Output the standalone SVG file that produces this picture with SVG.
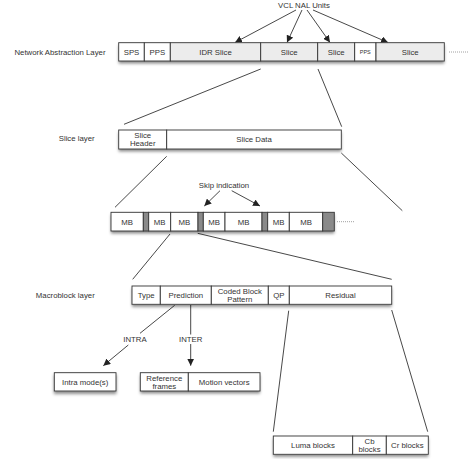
<svg xmlns="http://www.w3.org/2000/svg" width="474" height="459" viewBox="0 0 474 459">
<style>
text{font-family:"Liberation Sans",Arial,sans-serif;font-size:7.8px;fill:#333;text-anchor:middle}
.c{stroke:#333;stroke-width:0.9}
.w{fill:#fff}
.g{fill:#ececec}
.d{fill:#8a8a8a}
.ln{stroke:#333;stroke-width:0.9;fill:none}
.dot{stroke:#888;stroke-width:0.8;stroke-dasharray:1 1;fill:none}
</style>
<defs>
<filter id="sh" x="-10%" y="-30%" width="120%" height="180%">
<feDropShadow dx="0" dy="2.5" stdDeviation="1.6" flood-color="#000" flood-opacity="0.45"/>
</filter>
<marker id="ah" viewBox="0 0 10 10" refX="10" refY="5" markerWidth="7" markerHeight="7" markerUnits="userSpaceOnUse" orient="auto">
<path d="M0,0 L10,5 L0,10 z" fill="#222"/>
</marker>
</defs>

<g id="labels">
<text x="60" y="54.7">Network Abstraction Layer</text>
<text x="76.7" y="140.8">Slice layer</text>
<text x="65.3" y="297.8">Macroblock layer</text>
<text x="304" y="7.5">VCL NAL Units</text>
<text x="224" y="187.8">Skip indication</text>
<text x="135" y="342">INTRA</text>
<text x="190.7" y="342">INTER</text>
</g>

<g id="connectors">
<line class="ln" x1="296" y1="10" x2="235" y2="42.5" marker-end="url(#ah)"/>
<line class="ln" x1="302" y1="10" x2="287" y2="42.5" marker-end="url(#ah)"/>
<line class="ln" x1="307" y1="10" x2="330" y2="42.5" marker-end="url(#ah)"/>
<line class="ln" x1="313" y1="10" x2="388" y2="42.5" marker-end="url(#ah)"/>
<line class="ln" x1="260.7" y1="69" x2="124" y2="124.3"/>
<line class="ln" x1="318" y1="69" x2="341.7" y2="126.7"/>
<line class="ln" x1="166.7" y1="156.3" x2="115" y2="207.3"/>
<line class="ln" x1="341.3" y1="153" x2="402.3" y2="210.7"/>
<line class="ln" x1="220" y1="190.7" x2="204.3" y2="206" marker-end="url(#ah)"/>
<line class="ln" x1="231.7" y1="190.7" x2="260" y2="206" marker-end="url(#ah)"/>
<line class="ln" x1="170" y1="234" x2="132.7" y2="279.3"/>
<line class="ln" x1="197.7" y1="233.3" x2="391.7" y2="279.3"/>
<line class="ln" x1="174.7" y1="305.3" x2="140" y2="333.3"/>
<line class="ln" x1="128.3" y1="345" x2="103.3" y2="365.7" marker-end="url(#ah)"/>
<line class="ln" x1="190.7" y1="305" x2="190.7" y2="334.5"/>
<line class="ln" x1="190.7" y1="344" x2="190.7" y2="365.7" marker-end="url(#ah)"/>
<line class="ln" x1="288.7" y1="310.7" x2="273.3" y2="431.7"/>
<line class="ln" x1="391.7" y1="310" x2="427.7" y2="431.7"/>
<line class="dot" x1="449" y1="52" x2="468" y2="52"/>
<line class="dot" x1="337" y1="221.7" x2="355" y2="221.7"/>
</g>

<g id="nal">
<rect x="118.7" y="42.7" width="325.6" height="18.3" class="w" filter="url(#sh)"/>
<rect class="w c" x="118.7" y="42.7" width="25.6" height="18.3"/>
<rect class="w c" x="144.3" y="42.7" width="26" height="18.3"/>
<rect class="g c" x="170.3" y="42.7" width="90.4" height="18.3"/>
<rect class="g c" x="260.7" y="42.7" width="57" height="18.3"/>
<rect class="g c" x="317.7" y="42.7" width="37" height="18.3"/>
<rect class="w c" x="354.7" y="42.7" width="21.3" height="18.3"/>
<rect class="g c" x="376" y="42.7" width="68.3" height="18.3"/>
<text x="131.5" y="54.7">SPS</text>
<text x="157.3" y="54.7">PPS</text>
<text x="215.5" y="54.7">IDR Slice</text>
<text x="289.2" y="54.7">Slice</text>
<text x="336.2" y="54.7">Slice</text>
<text x="365.3" y="54" style="font-size:5.5px">PPS</text>
<text x="410.2" y="54.7">Slice</text>
</g>

<g id="slice">
<rect x="118.7" y="130" width="222.6" height="19" class="w" filter="url(#sh)"/>
<rect class="w c" x="118.7" y="130" width="48" height="19"/>
<rect class="w c" x="166.7" y="130" width="174.6" height="19"/>
<text x="142.7" y="137.8">Slice</text>
<text x="142.7" y="146">Header</text>
<text x="254" y="142.3">Slice Data</text>
</g>

<g id="mbrow">
<rect x="111" y="212.3" width="223.3" height="18.7" class="w" filter="url(#sh)"/>
<rect class="w c" x="111" y="212.3" width="32.3" height="18.7"/>
<rect class="d c" x="143.3" y="212.3" width="5.4" height="18.7"/>
<rect class="w c" x="148.7" y="212.3" width="22" height="18.7"/>
<rect class="w c" x="170.7" y="212.3" width="27.3" height="18.7"/>
<rect class="d c" x="198" y="212.3" width="5.3" height="18.7"/>
<rect class="w c" x="203.3" y="212.3" width="21.7" height="18.7"/>
<rect class="w c" x="225" y="212.3" width="37" height="18.7"/>
<rect class="d c" x="262" y="212.3" width="5.7" height="18.7"/>
<rect class="w c" x="267.7" y="212.3" width="21.6" height="18.7"/>
<rect class="w c" x="289.3" y="212.3" width="33.4" height="18.7"/>
<rect class="d c" x="322.7" y="212.3" width="11.6" height="18.7"/>
<text x="127.2" y="224.5">MB</text>
<text x="159.7" y="224.5">MB</text>
<text x="184.3" y="224.5">MB</text>
<text x="214.2" y="224.5">MB</text>
<text x="243.5" y="224.5">MB</text>
<text x="278.5" y="224.5">MB</text>
<text x="306" y="224.5">MB</text>
</g>

<g id="macroblock">
<rect x="132" y="286" width="259.7" height="18.3" class="w" filter="url(#sh)"/>
<rect class="w c" x="132" y="286" width="28.3" height="18.3"/>
<rect class="w c" x="160.3" y="286" width="51" height="18.3"/>
<rect class="w c" x="211.3" y="286" width="57" height="18.3"/>
<rect class="w c" x="268.3" y="286" width="21" height="18.3"/>
<rect class="w c" x="289.3" y="286" width="102.4" height="18.3"/>
<text x="146.2" y="297.8">Type</text>
<text x="185.8" y="297.8">Prediction</text>
<text x="239.8" y="293.8">Coded Block</text>
<text x="239.8" y="301.8">Pattern</text>
<text x="278.8" y="297.8">QP</text>
<text x="340.5" y="297.8">Residual</text>
</g>

<g id="intra">
<rect class="w c" x="54.3" y="372.7" width="61.7" height="18.3" filter="url(#sh)"/>
<text x="85.2" y="384.6">Intra mode(s)</text>
</g>

<g id="inter">
<rect x="140.3" y="372.7" width="119.7" height="18.3" class="w" filter="url(#sh)"/>
<rect class="w c" x="140.3" y="372.7" width="48" height="18.3"/>
<rect class="w c" x="188.3" y="372.7" width="71.7" height="18.3"/>
<text x="164.3" y="380.5">Reference</text>
<text x="164.3" y="388.5">frames</text>
<text x="224.2" y="384.6">Motion vectors</text>
</g>

<g id="residual">
<rect x="273.3" y="436" width="155" height="18.3" class="w" filter="url(#sh)"/>
<rect class="w c" x="273.3" y="436" width="79.4" height="18.3"/>
<rect class="w c" x="352.7" y="436" width="33.6" height="18.3"/>
<rect class="w c" x="386.3" y="436" width="42" height="18.3"/>
<text x="313" y="447.8">Luma blocks</text>
<text x="369.5" y="443.5">Cb</text>
<text x="369.5" y="451.5">blocks</text>
<text x="407.3" y="447.8">Cr blocks</text>
</g>
</svg>
